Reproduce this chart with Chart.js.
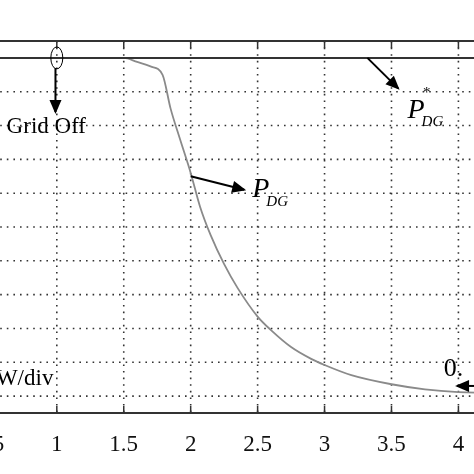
<!DOCTYPE html>
<html>
<head>
<meta charset="utf-8">
<script src="https://cdn.jsdelivr.net/npm/chart.js@4"></script>
<style>
  html, body { margin: 0; padding: 0; background: #fff; overflow: hidden; }
  #wrap { position: relative; width: 474px; height: 474px; overflow: hidden; }
  #box { position: absolute; left: -46px; top: 0; width: 566px; height: 474px; }
</style>
</head>
<body>
<div id="wrap"><div id="box"><canvas id="c"></canvas></div></div>
<script>
// x range shown (seconds) and y divisions
const xMin = 0.232;
const xMax = 4.46;
const xTicks = [0.5, 1, 1.5, 2, 2.5, 3, 3.5, 4];
const yTicks = [0, 1, 2, 3, 4, 5, 6, 7, 8, 9, 10];

// reference power P*_DG (constant)
const refX = [0.232, 4.46];
const refY = [10, 10];

// measured power P_DG
const pdgX = [0.232, 1.0, 1.5, 1.6, 1.7, 1.79, 1.85, 1.92, 2.0, 2.07, 2.15, 2.25, 2.35, 2.5, 2.6, 2.75, 2.9, 3.0, 3.2, 3.5, 3.75, 4.0, 4.46];
const pdgY = [10, 10, 10, 9.88, 9.75, 9.5, 8.5, 7.6, 6.6, 5.6, 4.75, 3.9, 3.2, 2.35, 1.95, 1.45, 1.1, 0.92, 0.62, 0.35, 0.2, 0.12, 0.08];

const FONT = '"Liberation Serif", "Times New Roman", serif';

const annotations = {
  id: 'annotations',
  beforeDatasetsDraw(chart) {
    // dotted grid
    const ctx = chart.ctx, a = chart.chartArea;
    const xs = chart.scales.x, ys = chart.scales.y;
    ctx.save();
    ctx.strokeStyle = '#333';
    ctx.lineWidth = 1.6;
    ctx.setLineDash([1.6, 5]);
    ctx.beginPath();
    xTicks.forEach(t => { const p = xs.getPixelForValue(t); ctx.moveTo(p, a.top); ctx.lineTo(p, a.bottom); });
    yTicks.forEach(t => { const p = ys.getPixelForValue(t); ctx.moveTo(a.left, p); ctx.lineTo(a.right, p); });
    ctx.stroke();
    ctx.restore();
  },
  afterDraw(chart) {
    const ctx = chart.ctx;
    const xs = chart.scales.x, ys = chart.scales.y;
    const X = v => xs.getPixelForValue(v), Y = v => ys.getPixelForValue(v);
    const a = chart.chartArea;
    ctx.save();
    // frame lines top / bottom
    ctx.strokeStyle = '#333';
    ctx.lineWidth = 2;
    ctx.beginPath();
    ctx.moveTo(a.left, a.top); ctx.lineTo(a.right, a.top);
    ctx.moveTo(a.left, a.bottom); ctx.lineTo(a.right, a.bottom);
    ctx.stroke();
    // inward tick marks
    ctx.lineWidth = 1.5;
    ctx.beginPath();
    xTicks.forEach(t => {
      ctx.moveTo(X(t), a.top); ctx.lineTo(X(t), a.top + 7);
      ctx.moveTo(X(t), a.bottom); ctx.lineTo(X(t), a.bottom - 7);
    });
    ctx.stroke();

    function arrow(x1, y1, x2, y2) {
      ctx.strokeStyle = '#000'; ctx.fillStyle = '#000'; ctx.lineWidth = 2;
      ctx.beginPath(); ctx.moveTo(x1, y1); ctx.lineTo(x2, y2); ctx.stroke();
      const ang = Math.atan2(y2 - y1, x2 - x1), L = 12, W = 6;
      ctx.beginPath();
      ctx.moveTo(x2 + 2 * Math.cos(ang), y2 + 2 * Math.sin(ang));
      ctx.lineTo(x2 - L * Math.cos(ang) + W * Math.sin(ang), y2 - L * Math.sin(ang) - W * Math.cos(ang));
      ctx.lineTo(x2 - L * Math.cos(ang) - W * Math.sin(ang), y2 - L * Math.sin(ang) + W * Math.cos(ang));
      ctx.closePath(); ctx.fill();
    }
    // Grid Off marker
    ctx.strokeStyle = '#000'; ctx.lineWidth = 1;
    ctx.beginPath(); ctx.ellipse(X(1), Y(10), 6, 11, 0, 0, Math.PI * 2); ctx.stroke();
    arrow(X(0.99), Y(9.7), X(0.99), Y(8.4));
    ctx.fillStyle = '#000';
    ctx.font = '23px ' + FONT;
    ctx.textBaseline = 'middle';
    ctx.fillText('Grid Off', X(0.625), Y(7.95));
    // P_DG
    arrow(X(2.0), Y(6.5), X(2.4), Y(6.1));
    ctx.font = 'italic 28px ' + FONT;
    ctx.fillText('P', X(2.46), Y(6.1));
    ctx.font = 'italic 15px ' + FONT;
    ctx.fillText('DG', X(2.565), Y(5.75));
    // P*_DG
    arrow(X(3.32), Y(10.0), X(3.55), Y(9.1));
    ctx.font = 'italic 28px ' + FONT;
    ctx.fillText('P', X(3.62), Y(8.45));
    ctx.font = 'italic 15px ' + FONT;
    ctx.fillText('*', X(3.73), Y(8.95));
    ctx.fillText('DG', X(3.725), Y(8.1));
    // W/div and 0.
    ctx.font = '23px ' + FONT;
    ctx.fillText('W/div', X(0.545), Y(0.5));
    ctx.font = '26px ' + FONT;
    ctx.fillText('0.', X(3.89), Y(0.8));
    arrow(X(4.12), Y(0.3), X(3.99), Y(0.3));
    ctx.restore();
  }
};

function createChart() {
  const ctx = document.getElementById('c').getContext('2d');
  return new Chart(ctx, {
    type: 'line',
    data: {
      datasets: [
        {
          label: 'P*DG',
          data: refX.map((x, i) => ({ x, y: refY[i] })),
          borderColor: '#333', borderWidth: 2, pointRadius: 0
        },
        {
          label: 'PDG',
          data: pdgX.map((x, i) => ({ x, y: pdgY[i] })),
          borderColor: '#8a8a8a', borderWidth: 1.8, pointRadius: 0,
          cubicInterpolationMode: 'monotone'
        }
      ]
    },
    options: {
      responsive: true,
      maintainAspectRatio: false,
      animation: false,
      layout: { padding: { top: 41, left: 0, right: 0, bottom: 0 } },
      plugins: { legend: { display: false }, tooltip: { enabled: false } },
      scales: {
        x: {
          type: 'linear', min: xMin, max: xMax,
          afterBuildTicks: s => { s.ticks = xTicks.map(v => ({ value: v })); },
          afterFit: s => { s.height = 61; },
          border: { display: false },
          grid: { display: false },
          ticks: {
            color: '#111', font: { family: FONT, size: 23 }, padding: 10,
            maxRotation: 0, autoSkip: false,
            callback: v => String(v)
          }
        },
        y: {
          type: 'linear', min: -0.5, max: 10.5,
          afterBuildTicks: s => { s.ticks = yTicks.map(v => ({ value: v })); },
          afterFit: s => { s.width = 0; },
          border: { display: false },
          grid: { display: false },
          ticks: { display: false }
        }
      }
    },
    plugins: [annotations]
  });
}

document.addEventListener('DOMContentLoaded', createChart);
</script>
</body>
</html>
